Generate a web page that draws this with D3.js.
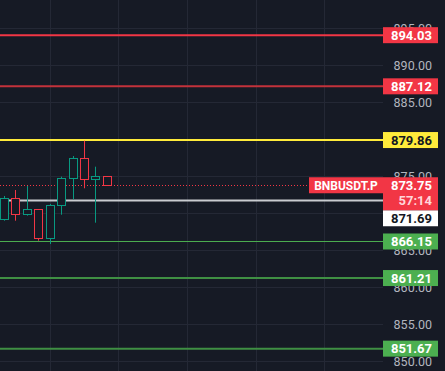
<!DOCTYPE html>
<html>
<head>
<meta charset="utf-8">
<script src="https://cdn.jsdelivr.net/npm/d3@7"></script>
<style>
  html, body { margin: 0; padding: 0; background: #161a25; overflow: hidden; }
  svg { display: block; }
  text { font-family: Roboto, "Noto Sans", sans-serif; }
</style>
</head>
<body>
<svg id="chart" width="445" height="371"></svg>
<script>
// candle data (index = bar number)
var opens  = [869.15, 871.99, 869.82, 870.50, 866.58, 871.04, 874.69, 877.39, 874.55, 875.00];
var highs  = [872.30, 873.11, 873.65, 870.50, 871.22, 874.91, 877.70, 879.77, 876.26, 875.00];
var lows   = [868.96, 868.96, 869.64, 866.26, 865.81, 869.77, 871.85, 873.34, 868.69, 873.74];
var closes = [871.99, 869.82, 870.50, 866.58, 871.04, 874.69, 877.39, 874.55, 875.00, 873.75];

// horizontal levels
var levelValues = [894.03, 887.12, 879.86, 871.69, 866.15, 861.21, 851.67];
var levelKinds  = ["red", "redDark", "yellow", "white", "greenThin", "green", "green"];

// price axis ticks
var priceTicks = [895, 890, 885, 880, 875, 870, 865, 860, 855, 850];
var timeGrid = [4, 10, 16, 22, 28];

var symbol = "BNBUSDT.P";
var lastPrice = 873.75;
var countdown = "57:14";

var W = 445, H = 371, plotW = 383;

var styles = {
  red:       { line: "#f23645", width: 2, box: "#f23645", text: "#ffffff" },
  redDark:   { line: "#c3323b", width: 2, box: "#f23645", text: "#ffffff" },
  yellow:    { line: "#ffeb3b", width: 2, box: "#ffeb3b", text: "#131722" },
  white:     { line: "#c9cbd0", width: 2, box: "#ffffff", text: "#131722" },
  greenThin: { line: "#4caf50", width: 1, box: "#4caf50", text: "#ffffff" },
  green:     { line: "#3f8f43", width: 2, box: "#4caf50", text: "#ffffff" }
};
var up = "#089981", down = "#f23645";

var svg = d3.select("#chart");

var x = d3.scaleLinear().domain([-0.35, 33.15]).range([0, plotW]);
var y = d3.scaleLinear().domain([850, 890]).range([361, 65]);

function crisp(v) { return Math.round(v) + 0.5; }

// label box placement (needed before axis so fully hidden ticks can be dropped)
var boxH = 16, boxX = plotW, boxW = 55, lastBoxH = 33;
var lastTop = y(lastPrice) - boxH / 2;
var boxCenters = levelValues.map(function(v) {
  var c = y(v);
  if (c > y(lastPrice) && c - boxH / 2 < lastTop + lastBoxH) return lastTop + lastBoxH + boxH / 2;
  return c;
});
var boxRanges = boxCenters.map(function(c) { return [c - boxH / 2, c + boxH / 2]; });
boxRanges.push([lastTop, lastTop + lastBoxH]);
function covered(t) {
  var c = y(t);
  return boxRanges.some(function(r) { return r[0] <= c - 2 && c + 2 <= r[1]; });
}

// grid
var grid = svg.append("g");
grid.selectAll("line.h")
  .data(priceTicks)
  .enter().append("line")
  .attr("x1", 0).attr("x2", plotW)
  .attr("y1", function(d) { return crisp(y(d)); })
  .attr("y2", function(d) { return crisp(y(d)); })
  .style("stroke", "#242835");
grid.selectAll("line.v")
  .data(timeGrid)
  .enter().append("line")
  .attr("y1", 0).attr("y2", H)
  .attr("x1", function(d) { return crisp(x(d)); })
  .attr("x2", function(d) { return crisp(x(d)); })
  .style("stroke", "#242835");

// price axis labels
var axis = d3.axisRight(y).tickValues(priceTicks.filter(function(t) { return !covered(t); }))
  .tickSize(0).tickPadding(0)
  .tickFormat(d3.format(".2f"));
var axisG = svg.append("g").attr("transform", "translate(" + plotW + ",0)").call(axis);
axisG.select(".domain").remove();
axisG.selectAll("text")
  .attr("x", 49).attr("text-anchor", "end")
  .style("font-size", "12.5px").style("fill", "#b2b5be");

// level lines
svg.append("g").selectAll("line")
  .data(levelValues)
  .enter().append("line")
  .attr("x1", 0).attr("x2", plotW)
  .attr("y1", function(d) { return y(d); })
  .attr("y2", function(d) { return y(d); })
  .style("stroke", function(d, i) { return styles[levelKinds[i]].line; })
  .style("stroke-width", function(d, i) { return styles[levelKinds[i]].width; });

// last price dotted line
svg.append("line")
  .attr("x1", 0).attr("x2", 309)
  .attr("y1", crisp(y(lastPrice))).attr("y2", crisp(y(lastPrice)))
  .style("stroke", down).style("stroke-dasharray", "1,2");

// candles
var candles = svg.append("g").selectAll("g")
  .data(opens.map(function(o, i) { return { i: i, o: o, h: highs[i], l: lows[i], c: closes[i] }; }))
  .enter().append("g")
  .style("stroke", function(d) { return d.c >= d.o ? up : down; });

candles.append("line")
  .attr("x1", function(d) { return crisp(x(d.i)); })
  .attr("x2", function(d) { return crisp(x(d.i)); })
  .attr("y1", function(d) { return y(d.h); })
  .attr("y2", function(d) { return y(Math.max(d.o, d.c)); });
candles.append("line")
  .attr("x1", function(d) { return crisp(x(d.i)); })
  .attr("x2", function(d) { return crisp(x(d.i)); })
  .attr("y1", function(d) { return y(Math.min(d.o, d.c)); })
  .attr("y2", function(d) { return y(d.l); });
candles.append("rect")
  .attr("x", function(d) { return Math.round(x(d.i)) - 3.5; })
  .attr("width", 8)
  .attr("y", function(d) { return Math.round(y(Math.max(d.o, d.c))) + 0.5; })
  .attr("height", function(d) { return Math.max(1, Math.round(y(Math.min(d.o, d.c)) - y(Math.max(d.o, d.c)))); })
  .style("fill", "#161a25");

// axis label boxes
var labels = svg.append("g").selectAll("g")
  .data(levelValues)
  .enter().append("g")
  .attr("transform", function(d, i) { return "translate(" + boxX + "," + (boxCenters[i] - boxH / 2) + ")"; });
labels.append("rect")
  .attr("width", boxW).attr("height", boxH)
  .style("fill", function(d, i) { return styles[levelKinds[i]].box; });
labels.append("text")
  .attr("x", 49).attr("y", boxH / 2).attr("dy", "0.36em")
  .attr("text-anchor", "end")
  .style("font-size", "13px").style("font-weight", "bold")
  .style("fill", function(d, i) { return styles[levelKinds[i]].text; })
  .text(function(d) { return d3.format(".2f")(d); });

// last price box with countdown
var lp = svg.append("g").attr("transform", "translate(" + boxX + "," + lastTop + ")");
lp.append("rect").attr("width", boxW).attr("height", lastBoxH).style("fill", down);
lp.append("text")
  .attr("x", 49).attr("y", boxH / 2).attr("dy", "0.36em").attr("text-anchor", "end")
  .style("font-size", "13px").style("font-weight", "bold").style("fill", "#ffffff")
  .text(d3.format(".2f")(lastPrice));
lp.append("text")
  .attr("x", 49).attr("y", boxH / 2 + 15).attr("dy", "0.36em").attr("text-anchor", "end")
  .style("font-size", "13px").style("font-weight", "bold").style("fill", "#ffd6da")
  .text(countdown);

// symbol tag
var sym = svg.append("g").attr("transform", "translate(309," + lastTop + ")");
sym.append("rect").attr("width", 74).attr("height", boxH).style("fill", down);
sym.append("text")
  .attr("x", 37).attr("y", boxH / 2).attr("dy", "0.36em").attr("text-anchor", "middle")
  .style("font-size", "12px").style("font-weight", "bold").style("fill", "#ffffff")
  .text(symbol);
</script>
</body>
</html>
